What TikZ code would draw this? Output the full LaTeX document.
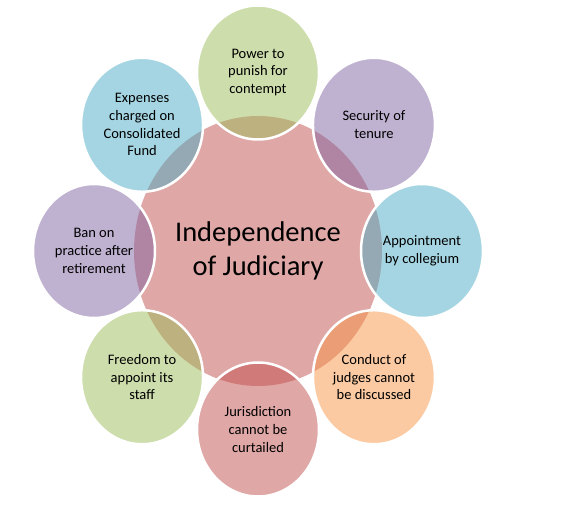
\documentclass[tikz,border=0pt]{standalone}
\usepackage{fontspec}
\setmainfont{Carlito}
\usepackage{tikz}
\usetikzlibrary{shapes.geometric}

\definecolor{accred}{HTML}{C0504D}
\definecolor{accgreen}{HTML}{9BBB59}
\definecolor{accpurple}{HTML}{8064A2}
\definecolor{accaqua}{HTML}{4BACC6}
\definecolor{accorange}{HTML}{F79646}

\tikzset{
  hub/.style={ellipse,minimum width=248pt,minimum height=270pt,inner sep=0pt,
              fill=accred,fill opacity=0.5,text opacity=1,align=center,
              font=\fontsize{28.5}{34}\selectfont},
  petal/.style={ellipse,minimum width=122pt,minimum height=134pt,inner sep=0pt,
                draw=white,line width=2.5pt,fill opacity=0.5,text opacity=1,
                align=center,font=\fontsize{14.5}{17.7}\selectfont}
}

\begin{document}
\begin{tikzpicture}[x=1pt,y=1pt]
  \useasboundingbox (-258,-275) rectangle (322,251);

  % centre
  \node[hub] (hub) at (0,0) {Independence\\of Judiciary};

  % the eight features, clockwise from the top
  \node[petal,fill=accgreen]  (contempt)     at (90:164 and 178.5)  {Power to\\punish for\\contempt};
  \node[petal,fill=accpurple] (tenure)       at (45:164 and 178.5)  {Security of\\tenure};
  \node[petal,fill=accaqua]   (collegium)    at (0:164 and 178.5)   {Appointment\\by collegium};
  \node[petal,fill=accorange] (conduct)      at (-45:164 and 178.5) {Conduct of\\judges cannot\\be discussed};
  \node[petal,fill=accred]    (jurisdiction) at (-90:164 and 178.5) {Jurisdiction\\cannot be\\curtailed};
  \node[petal,fill=accgreen]  (staff)        at (-135:164 and 178.5) {Freedom to\\appoint its\\staff};
  \node[petal,fill=accpurple] (retirement)   at (180:164 and 178.5) {Ban on\\practice after\\retirement};
  \node[petal,fill=accaqua]   (expenses)     at (135:164 and 178.5) {Expenses\\charged on\\Consolidated\\Fund};
\end{tikzpicture}
\end{document}
